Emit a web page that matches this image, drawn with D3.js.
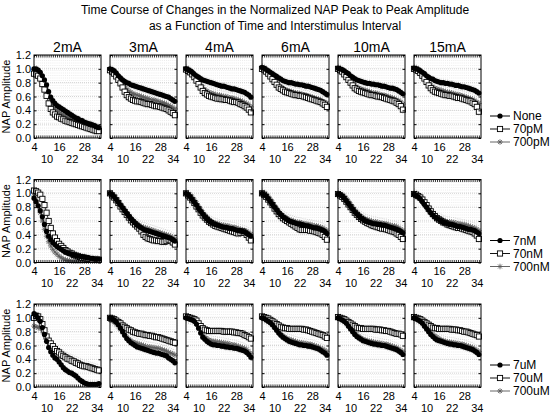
<!DOCTYPE html>
<html>
<head>
<meta charset="utf-8">
<script src="https://cdn.jsdelivr.net/npm/d3@7"></script>
<style>
  body { margin: 0; background: #fff; }
  svg { font-family: "Liberation Sans", Arial, sans-serif; }
</style>
</head>
<body>
<div id="chart"></div>
<script>
// interstimulus time points (x axis)
const times = [4,5,6,7,8,9,10,11,12,13,14,15,16,17,18,19,20,21,22,23,24,25,26,27,28,29,30,31,32,33,34,35];
const currents = ["2mA", "3mA", "4mA", "6mA", "10mA", "15mA"];
const legendPM = ["None", "70pM", "700pM"];
const legendNM = ["7nM", "70nM", "700nM"];
const legendUM = ["7uM", "70uM", "700uM"];
const yTicks = [0, 0.2, 0.4, 0.6, 0.8, 1.0, 1.2];
const xLabelsUpper = [4, 16, 28];
const xLabelsLower = [10, 22, 34];

// row 1 : None / 70pM / 700pM  (one array per current)
const none = [
  [1.00,1.00,0.98,0.95,0.90,0.84,0.77,0.67,0.59,0.54,0.50,0.47,0.45,0.43,0.41,0.39,0.37,0.35,0.33,0.31,0.29,0.28,0.26,0.25,0.23,0.22,0.21,0.20,0.19,0.18,0.16,0.15],
  [1.00,0.99,0.97,0.94,0.90,0.87,0.84,0.82,0.80,0.79,0.77,0.76,0.75,0.74,0.73,0.72,0.71,0.70,0.69,0.68,0.67,0.66,0.65,0.64,0.63,0.62,0.61,0.60,0.59,0.57,0.55,0.53],
  [1.00,0.99,0.97,0.95,0.92,0.90,0.88,0.86,0.84,0.83,0.82,0.81,0.80,0.79,0.78,0.77,0.76,0.75,0.75,0.74,0.73,0.72,0.71,0.71,0.70,0.69,0.68,0.67,0.66,0.64,0.62,0.59],
  [1.02,1.01,0.99,0.97,0.95,0.93,0.91,0.89,0.87,0.85,0.83,0.82,0.81,0.80,0.80,0.79,0.78,0.78,0.77,0.77,0.76,0.75,0.75,0.74,0.73,0.72,0.71,0.70,0.69,0.67,0.65,0.63],
  [1.01,1.00,0.99,0.97,0.95,0.93,0.90,0.88,0.86,0.84,0.83,0.82,0.81,0.80,0.79,0.79,0.78,0.78,0.77,0.77,0.76,0.75,0.75,0.74,0.73,0.72,0.72,0.71,0.70,0.68,0.66,0.64],
  [1.01,1.00,0.99,0.97,0.95,0.93,0.90,0.88,0.86,0.85,0.83,0.82,0.81,0.80,0.80,0.79,0.79,0.78,0.78,0.77,0.76,0.76,0.75,0.74,0.74,0.73,0.72,0.71,0.70,0.69,0.67,0.65]
];
const pM70 = [
  [0.93,0.92,0.90,0.86,0.78,0.70,0.61,0.50,0.42,0.37,0.34,0.31,0.30,0.28,0.27,0.25,0.24,0.23,0.22,0.21,0.20,0.19,0.18,0.17,0.16,0.15,0.14,0.13,0.12,0.11,0.10,0.10],
  [0.98,0.96,0.93,0.89,0.84,0.79,0.73,0.67,0.62,0.59,0.57,0.55,0.54,0.53,0.53,0.52,0.51,0.50,0.49,0.49,0.48,0.47,0.46,0.46,0.45,0.44,0.43,0.42,0.40,0.38,0.36,0.33],
  [0.99,0.97,0.95,0.92,0.88,0.83,0.78,0.73,0.68,0.65,0.63,0.61,0.60,0.59,0.58,0.57,0.57,0.56,0.56,0.55,0.55,0.54,0.53,0.52,0.52,0.51,0.49,0.48,0.46,0.44,0.41,0.37],
  [1.00,0.99,0.96,0.93,0.89,0.85,0.81,0.77,0.73,0.71,0.69,0.67,0.66,0.65,0.64,0.63,0.62,0.62,0.61,0.61,0.60,0.59,0.58,0.57,0.56,0.55,0.54,0.53,0.52,0.50,0.48,0.45],
  [1.00,0.98,0.96,0.92,0.88,0.84,0.80,0.76,0.72,0.70,0.68,0.67,0.66,0.65,0.64,0.63,0.62,0.62,0.61,0.60,0.60,0.59,0.58,0.57,0.56,0.55,0.54,0.53,0.51,0.49,0.46,0.41],
  [1.00,0.99,0.97,0.94,0.90,0.86,0.81,0.76,0.72,0.69,0.67,0.66,0.65,0.64,0.63,0.62,0.62,0.61,0.61,0.60,0.59,0.58,0.58,0.57,0.56,0.55,0.54,0.53,0.51,0.49,0.45,0.38]
];
const pM700 = [
  [0.99,0.98,0.96,0.92,0.86,0.78,0.70,0.60,0.52,0.47,0.43,0.40,0.38,0.36,0.34,0.32,0.31,0.29,0.28,0.26,0.25,0.24,0.22,0.21,0.20,0.19,0.18,0.17,0.16,0.15,0.14,0.13],
  [0.99,0.97,0.95,0.92,0.88,0.84,0.79,0.75,0.71,0.68,0.66,0.64,0.63,0.62,0.61,0.60,0.59,0.58,0.57,0.56,0.55,0.55,0.54,0.53,0.52,0.51,0.50,0.49,0.47,0.46,0.44,0.42],
  [1.00,0.98,0.96,0.93,0.90,0.86,0.82,0.77,0.73,0.70,0.68,0.66,0.65,0.64,0.63,0.62,0.62,0.61,0.60,0.60,0.59,0.58,0.58,0.57,0.56,0.55,0.54,0.53,0.51,0.50,0.48,0.45],
  [1.01,1.00,0.98,0.95,0.92,0.88,0.84,0.80,0.76,0.74,0.72,0.70,0.69,0.68,0.67,0.66,0.65,0.65,0.64,0.63,0.62,0.62,0.61,0.60,0.59,0.58,0.57,0.56,0.55,0.53,0.52,0.50],
  [1.00,0.99,0.97,0.95,0.91,0.87,0.83,0.79,0.76,0.74,0.72,0.71,0.70,0.69,0.68,0.67,0.66,0.65,0.65,0.64,0.63,0.62,0.62,0.61,0.60,0.59,0.58,0.57,0.55,0.54,0.52,0.49],
  [1.00,0.99,0.98,0.95,0.92,0.88,0.84,0.80,0.76,0.74,0.72,0.71,0.70,0.69,0.68,0.67,0.66,0.66,0.65,0.64,0.63,0.63,0.62,0.61,0.60,0.59,0.58,0.57,0.56,0.54,0.52,0.50]
];

// row 2 : 7nM / 70nM / 700nM
const nM7 = [
  [0.93,0.88,0.82,0.75,0.66,0.55,0.45,0.38,0.33,0.29,0.26,0.23,0.21,0.19,0.17,0.15,0.14,0.13,0.12,0.11,0.10,0.09,0.09,0.08,0.08,0.07,0.07,0.06,0.06,0.05,0.05,0.05],
  [1.00,0.98,0.95,0.91,0.87,0.83,0.79,0.75,0.71,0.67,0.63,0.60,0.57,0.54,0.52,0.50,0.48,0.47,0.46,0.45,0.44,0.43,0.42,0.41,0.40,0.39,0.38,0.37,0.36,0.35,0.33,0.31],
  [1.00,0.98,0.95,0.91,0.87,0.83,0.78,0.74,0.70,0.66,0.63,0.60,0.58,0.56,0.55,0.54,0.53,0.52,0.51,0.51,0.50,0.49,0.49,0.48,0.47,0.46,0.46,0.45,0.44,0.42,0.40,0.38],
  [1.00,0.98,0.96,0.92,0.88,0.84,0.80,0.76,0.72,0.69,0.66,0.64,0.62,0.60,0.59,0.58,0.57,0.56,0.56,0.55,0.54,0.53,0.53,0.52,0.51,0.50,0.50,0.49,0.48,0.47,0.45,0.42],
  [0.99,0.98,0.96,0.93,0.89,0.85,0.81,0.77,0.73,0.70,0.67,0.64,0.62,0.60,0.59,0.58,0.57,0.56,0.56,0.55,0.55,0.54,0.54,0.53,0.52,0.51,0.50,0.49,0.48,0.47,0.45,0.43],
  [0.99,0.97,0.95,0.92,0.88,0.84,0.80,0.76,0.72,0.69,0.66,0.64,0.62,0.60,0.58,0.57,0.56,0.55,0.55,0.54,0.53,0.52,0.52,0.51,0.50,0.49,0.48,0.48,0.47,0.46,0.44,0.42]
];
const nM70 = [
  [1.04,1.03,1.01,0.98,0.92,0.83,0.72,0.60,0.50,0.42,0.36,0.31,0.27,0.24,0.21,0.18,0.16,0.14,0.13,0.11,0.10,0.09,0.08,0.07,0.07,0.06,0.05,0.05,0.04,0.04,0.04,0.04],
  [1.00,0.97,0.94,0.90,0.86,0.81,0.77,0.73,0.69,0.65,0.61,0.58,0.55,0.52,0.49,0.45,0.40,0.37,0.35,0.34,0.33,0.32,0.32,0.31,0.31,0.30,0.30,0.31,0.33,0.32,0.29,0.26],
  [1.00,0.97,0.94,0.90,0.86,0.81,0.77,0.72,0.68,0.65,0.62,0.59,0.57,0.55,0.53,0.52,0.51,0.50,0.49,0.48,0.47,0.46,0.45,0.44,0.43,0.42,0.43,0.45,0.43,0.40,0.36,0.32],
  [1.00,0.98,0.95,0.91,0.87,0.83,0.78,0.74,0.70,0.67,0.64,0.62,0.60,0.58,0.56,0.54,0.52,0.50,0.48,0.47,0.47,0.47,0.47,0.46,0.46,0.45,0.44,0.43,0.42,0.40,0.37,0.33],
  [0.99,0.97,0.95,0.92,0.88,0.84,0.80,0.76,0.72,0.69,0.66,0.63,0.61,0.59,0.57,0.56,0.54,0.53,0.52,0.51,0.50,0.49,0.49,0.48,0.47,0.46,0.45,0.44,0.42,0.40,0.37,0.34],
  [0.99,0.98,0.96,0.94,0.91,0.87,0.83,0.78,0.74,0.70,0.67,0.64,0.62,0.60,0.58,0.57,0.55,0.54,0.53,0.52,0.51,0.50,0.50,0.49,0.48,0.47,0.46,0.45,0.44,0.42,0.39,0.34]
];
const nM700 = [
  [0.96,0.90,0.82,0.72,0.60,0.48,0.38,0.30,0.24,0.19,0.15,0.12,0.09,0.07,0.05,0.04,0.03,0.03,0.02,0.02,0.02,0.02,0.02,0.02,0.02,0.02,0.02,0.02,0.02,0.02,0.02,0.02],
  [0.99,0.97,0.94,0.91,0.87,0.83,0.79,0.75,0.71,0.67,0.64,0.61,0.58,0.56,0.54,0.52,0.51,0.50,0.49,0.48,0.47,0.46,0.45,0.44,0.43,0.42,0.41,0.40,0.39,0.38,0.36,0.34],
  [1.00,0.98,0.96,0.93,0.89,0.85,0.80,0.76,0.72,0.68,0.65,0.62,0.60,0.58,0.57,0.56,0.55,0.54,0.54,0.53,0.53,0.52,0.51,0.51,0.50,0.49,0.48,0.47,0.46,0.45,0.43,0.41],
  [1.01,0.99,0.97,0.94,0.90,0.86,0.81,0.77,0.73,0.70,0.68,0.66,0.64,0.62,0.61,0.60,0.59,0.58,0.58,0.57,0.56,0.56,0.55,0.55,0.54,0.53,0.53,0.52,0.51,0.50,0.48,0.46],
  [1.00,0.99,0.97,0.94,0.91,0.87,0.83,0.79,0.75,0.72,0.69,0.67,0.65,0.63,0.62,0.61,0.60,0.59,0.59,0.58,0.57,0.57,0.56,0.56,0.55,0.54,0.53,0.53,0.52,0.50,0.48,0.46],
  [1.00,0.98,0.96,0.93,0.90,0.86,0.82,0.78,0.74,0.71,0.68,0.66,0.64,0.63,0.61,0.60,0.59,0.59,0.58,0.58,0.57,0.56,0.56,0.55,0.55,0.54,0.53,0.52,0.51,0.50,0.48,0.46]
];

// row 3 : 7uM / 70uM / 700uM
const uM7 = [
  [1.06,1.04,1.00,0.95,0.86,0.76,0.66,0.57,0.51,0.46,0.42,0.40,0.36,0.32,0.28,0.25,0.23,0.21,0.20,0.18,0.16,0.13,0.10,0.08,0.06,0.05,0.04,0.04,0.04,0.04,0.04,0.05],
  [1.00,0.99,0.97,0.94,0.90,0.85,0.80,0.75,0.70,0.67,0.64,0.62,0.60,0.58,0.57,0.56,0.55,0.54,0.53,0.52,0.51,0.50,0.49,0.49,0.48,0.47,0.46,0.45,0.42,0.40,0.38,0.35],
  [1.00,0.99,0.98,0.97,0.95,0.91,0.85,0.78,0.72,0.69,0.66,0.64,0.62,0.61,0.61,0.60,0.60,0.59,0.59,0.58,0.58,0.57,0.57,0.56,0.56,0.55,0.54,0.53,0.52,0.50,0.47,0.43],
  [1.00,0.99,0.97,0.95,0.93,0.90,0.86,0.82,0.78,0.75,0.72,0.70,0.68,0.66,0.65,0.64,0.63,0.62,0.61,0.61,0.60,0.60,0.59,0.59,0.58,0.57,0.56,0.55,0.53,0.51,0.49,0.46],
  [1.00,0.99,0.97,0.95,0.92,0.88,0.84,0.80,0.76,0.73,0.71,0.69,0.67,0.66,0.65,0.64,0.63,0.62,0.62,0.61,0.61,0.60,0.60,0.59,0.58,0.57,0.56,0.55,0.54,0.52,0.50,0.47],
  [1.00,0.99,0.97,0.95,0.92,0.88,0.84,0.80,0.76,0.73,0.70,0.68,0.67,0.66,0.65,0.64,0.63,0.62,0.62,0.61,0.61,0.60,0.60,0.59,0.58,0.57,0.56,0.55,0.54,0.52,0.50,0.47]
];
const uM70 = [
  [1.00,1.03,1.02,0.98,0.91,0.82,0.73,0.67,0.63,0.59,0.55,0.52,0.50,0.47,0.45,0.43,0.41,0.40,0.38,0.37,0.35,0.34,0.32,0.31,0.30,0.30,0.29,0.28,0.27,0.26,0.25,0.24],
  [1.00,0.99,0.98,0.96,0.94,0.92,0.89,0.87,0.85,0.83,0.82,0.80,0.79,0.78,0.77,0.77,0.76,0.75,0.75,0.74,0.74,0.73,0.72,0.72,0.71,0.70,0.69,0.68,0.67,0.66,0.65,0.64],
  [1.02,1.01,1.00,0.99,0.98,0.96,0.92,0.88,0.85,0.83,0.82,0.81,0.81,0.81,0.81,0.81,0.81,0.81,0.80,0.80,0.80,0.80,0.80,0.79,0.79,0.78,0.78,0.77,0.75,0.74,0.72,0.70],
  [1.02,1.01,1.00,0.99,0.97,0.95,0.93,0.91,0.89,0.87,0.86,0.85,0.85,0.84,0.84,0.84,0.84,0.84,0.84,0.84,0.83,0.83,0.82,0.81,0.80,0.79,0.78,0.77,0.76,0.75,0.73,0.71],
  [1.01,1.00,0.99,0.98,0.96,0.94,0.92,0.90,0.88,0.86,0.85,0.85,0.84,0.84,0.84,0.84,0.84,0.84,0.83,0.83,0.83,0.82,0.82,0.81,0.81,0.80,0.79,0.78,0.77,0.77,0.76,0.74],
  [1.01,1.00,0.99,0.98,0.96,0.94,0.92,0.90,0.88,0.86,0.85,0.85,0.84,0.84,0.84,0.84,0.84,0.84,0.83,0.83,0.83,0.82,0.82,0.81,0.80,0.80,0.79,0.78,0.77,0.76,0.75,0.73]
];
const uM700 = [
  [0.88,0.87,0.86,0.85,0.82,0.77,0.72,0.67,0.62,0.58,0.55,0.52,0.50,0.48,0.46,0.44,0.43,0.41,0.40,0.38,0.37,0.36,0.34,0.33,0.31,0.31,0.30,0.29,0.28,0.27,0.26,0.26],
  [0.97,0.96,0.94,0.91,0.88,0.84,0.80,0.76,0.72,0.69,0.67,0.65,0.64,0.63,0.62,0.61,0.60,0.59,0.58,0.58,0.57,0.57,0.56,0.56,0.55,0.54,0.53,0.52,0.50,0.49,0.48,0.46],
  [1.00,0.99,0.98,0.97,0.96,0.93,0.88,0.82,0.77,0.73,0.70,0.68,0.67,0.66,0.66,0.65,0.65,0.64,0.64,0.63,0.63,0.62,0.61,0.61,0.60,0.59,0.58,0.57,0.56,0.54,0.51,0.48],
  [1.00,0.99,0.97,0.95,0.93,0.90,0.87,0.83,0.80,0.77,0.74,0.72,0.70,0.69,0.68,0.67,0.66,0.65,0.64,0.64,0.63,0.63,0.62,0.62,0.61,0.60,0.59,0.58,0.56,0.55,0.53,0.51],
  [1.00,0.99,0.97,0.95,0.93,0.90,0.86,0.82,0.79,0.76,0.73,0.71,0.69,0.68,0.67,0.66,0.66,0.65,0.64,0.64,0.63,0.63,0.62,0.62,0.61,0.60,0.59,0.58,0.57,0.55,0.53,0.51],
  [1.00,0.99,0.97,0.95,0.93,0.90,0.86,0.82,0.79,0.76,0.74,0.72,0.70,0.68,0.67,0.66,0.65,0.65,0.64,0.64,0.63,0.63,0.62,0.62,0.61,0.60,0.59,0.58,0.57,0.55,0.53,0.51]
];

// approx. spread of the dotted error lines, per series of each row
const spreadPM = [0.05, 0.06, 0.07];
const spreadNM = [0.05, 0.06, 0.07];
const spreadUM = [0.05, 0.05, 0.07];

const rows = [
  { series: [none, pM70, pM700], legend: legendPM, spread: spreadPM },
  { series: [nM7, nM70, nM700], legend: legendNM, spread: spreadNM },
  { series: [uM7, uM70, uM700], legend: legendUM, spread: spreadUM }
];

const width = 550, height = 414;
const panelW = 67, panelH = 83;
const colX = [34, 110, 186, 262, 338, 414];
const rowY = [55, 179.5, 304];
const fontStack = "'Liberation Sans', Arial, sans-serif";

const svg = d3.select("#chart").append("svg")
  .attr("width", width)
  .attr("height", height)
  .style("background", "#fff");

svg.append("text")
  .attr("x", 275).attr("y", 14)
  .attr("text-anchor", "middle")
  .style("font-size", "12px")
  .text("Time Course of Changes in the Normalized NAP Peak to Peak Amplitude");
svg.append("text")
  .attr("x", 275).attr("y", 30)
  .attr("text-anchor", "middle")
  .style("font-size", "12px")
  .text("as a Function of Time and Interstimulus Interval");

const x = d3.scaleLinear().domain([4, 36]).range([0, panelW]);
const y = d3.scaleLinear().domain([0, 1.2]).range([panelH, 0]);

const starPath = (r) => {
  const a = r * 0.72;
  return `M${-r},0L${r},0M0,${-r}L0,${r}M${-a},${-a}L${a},${a}M${-a},${a}L${a},${-a}`;
};

const styles = [
  { kind: "circle", line: "#000" },
  { kind: "square", line: "#111" },
  { kind: "star", line: "#666" }
];

const drawMarkers = (sel, kind) => {
  if (kind === "circle") {
    sel.append("circle").attr("r", 2.6).attr("fill", "#000");
  } else if (kind === "square") {
    sel.append("rect").attr("x", -2.6).attr("y", -2.6).attr("width", 5.2).attr("height", 5.2)
      .attr("fill", "#fff").attr("stroke", "#000").attr("stroke-width", 0.9);
  } else {
    sel.append("path").attr("d", starPath(2.8)).attr("fill", "none")
      .attr("stroke", "#5a5a5a").attr("stroke-width", 0.8);
  }
};

const line = d3.line().x(d => x(d.t)).y(d => y(d.v));

rows.forEach((row, ri) => {
  currents.forEach((cur, ci) => {
    const g = svg.append("g").attr("transform", `translate(${colX[ci]},${rowY[ri]})`);

    // dotted grid
    g.selectAll(".vgrid").data(d3.range(5, 36)).enter().append("line")
      .attr("x1", d => x(d)).attr("x2", d => x(d))
      .attr("y1", 0).attr("y2", panelH)
      .attr("stroke", "#d8d8d8").attr("stroke-width", 0.5)
      .attr("stroke-dasharray", "1,1.5");
    g.selectAll(".hgrid").data(yTicks.slice(1, -1)).enter().append("line")
      .attr("x1", 0).attr("x2", panelW)
      .attr("y1", d => y(d)).attr("y2", d => y(d))
      .attr("stroke", "#b8b8b8").attr("stroke-width", 0.6)
      .attr("stroke-dasharray", "1,1");

    // error lines
    row.series.forEach((s, si) => {
      const pts = times.map((t, i) => ({ t, v: s[ci][i] }));
      [1, -1].forEach(sign => {
        g.append("path")
          .datum(pts.map(p => ({ t: p.t, v: Math.max(0, p.v + sign * row.spread[si]) })))
          .attr("fill", "none").attr("stroke", "#bdbdbd")
          .attr("stroke-width", 0.7).attr("stroke-dasharray", "1,1.2")
          .attr("d", line);
      });
    });

    // series, drawn back to front
    [2, 1, 0].forEach(si => {
      const pts = times.map((t, i) => ({ t, v: row.series[si][ci][i] }));
      g.append("path").datum(pts)
        .attr("fill", "none").attr("stroke", styles[si].line).attr("stroke-width", 0.8)
        .attr("d", line);
      const m = g.selectAll(null).data(pts).enter().append("g")
        .attr("transform", d => `translate(${x(d.t)},${y(d.v)})`);
      drawMarkers(m, styles[si].kind);
    });

    // frame and inward ticks
    g.append("rect").attr("width", panelW).attr("height", panelH)
      .attr("fill", "none").attr("stroke", "#000").attr("stroke-width", 1);

    const tickX = d3.range(4, 36);
    [d3.axisBottom(x), d3.axisTop(x)].forEach((ax, k) => {
      const a = g.append("g").attr("transform", `translate(0,${k === 0 ? panelH : 0})`)
        .call(ax.tickValues(tickX).tickSize(-2.5).tickFormat(""));
      a.select(".domain").remove();
      a.selectAll("line").attr("stroke", "#000").attr("stroke-width", 0.8);
    });
    const yr = g.append("g").attr("transform", `translate(${panelW},0)`)
      .call(d3.axisRight(y).tickValues(yTicks).tickSize(-2.5).tickFormat(""));
    yr.select(".domain").remove();

    const yl = g.append("g")
      .call(d3.axisLeft(y).tickValues(yTicks).tickSize(-2.5).tickPadding(3)
        .tickFormat(ci === 0 ? d3.format(".1f") : ""));
    yl.select(".domain").remove();
    yl.selectAll("text").style("font-size", "11px").attr("fill", "#000")
      .style("font-family", fontStack);

    // staggered x labels
    [[xLabelsUpper, 5], [xLabelsLower, 17]].forEach(([vals, pad]) => {
      const a = g.append("g").attr("transform", `translate(0,${panelH})`)
        .call(d3.axisBottom(x).tickValues(vals).tickSize(0).tickPadding(pad));
      a.select(".domain").remove();
      a.selectAll("text").style("font-size", "11px").attr("fill", "#000")
        .style("font-family", fontStack);
    });

    if (ri === 0) {
      g.append("text").attr("x", panelW / 2).attr("y", -3)
        .attr("text-anchor", "middle").style("font-size", "14px")
        .text(cur);
    }
    if (ci === 0) {
      g.append("text")
        .attr("transform", "rotate(-90)")
        .attr("x", -panelH / 2).attr("y", -24)
        .attr("text-anchor", "middle").style("font-size", "11px")
        .text("NAP Amplitude");
    }
  });

  // legend
  const lg = svg.append("g").attr("transform", `translate(490,${rowY[ri] + 61})`);
  row.legend.forEach((name, si) => {
    const item = lg.append("g").attr("transform", `translate(0,${si * 13})`);
    item.append("line").attr("x1", 0).attr("x2", 20).attr("y1", 0).attr("y2", 0)
      .attr("stroke", styles[si].line).attr("stroke-width", 1);
    drawMarkers(item.append("g").attr("transform", "translate(10,0)"), styles[si].kind);
    item.append("text").attr("x", 23).attr("y", 0).attr("dy", "0.35em")
      .style("font-size", "12px").text(name);
  });
});
</script>
</body>
</html>
